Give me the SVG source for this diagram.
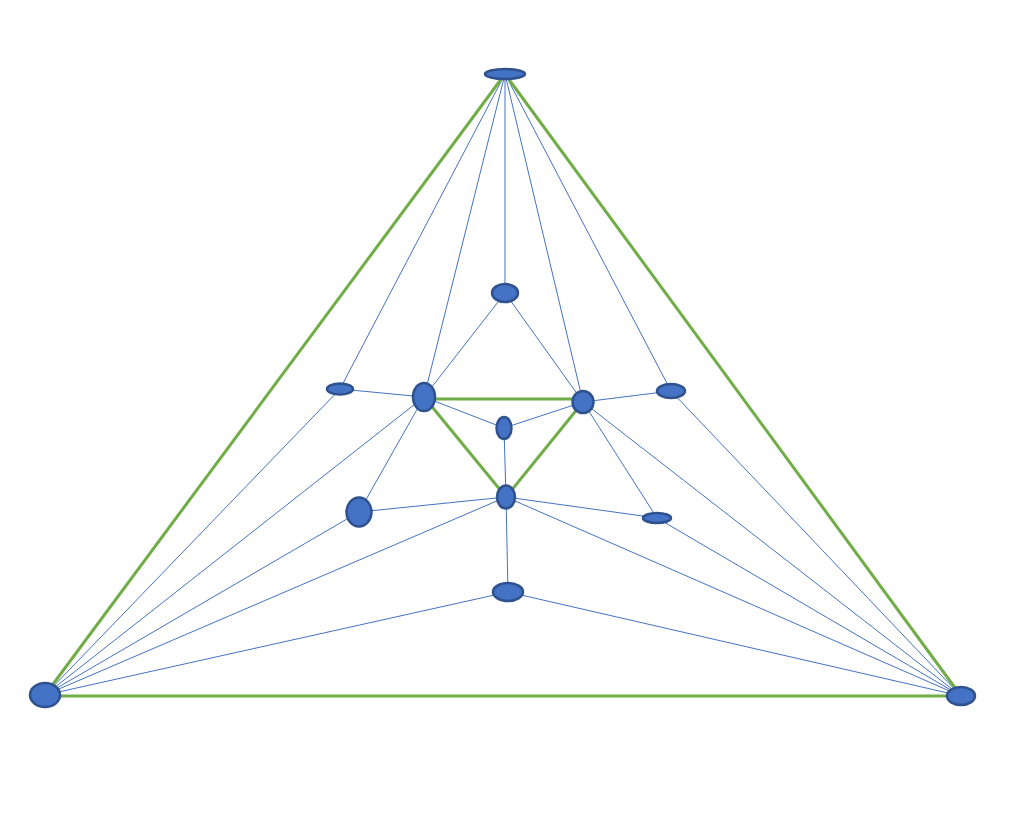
<svg xmlns="http://www.w3.org/2000/svg" width="1026" height="814" viewBox="0 0 1026 814">
<style>
.g{stroke:#70AD47;stroke-width:3;fill:none}
.b{stroke:#4472C4;stroke-width:1;fill:none}
.n{fill:#4472C4;stroke:#2F528F;stroke-width:2.5}
</style>
<rect width="1026" height="814" fill="#fff"/>
<g id="connectors">
<line class="b" x1="505" y1="74" x2="340" y2="389"/>
<line class="b" x1="505" y1="74" x2="424" y2="397"/>
<line class="b" x1="505" y1="74" x2="505" y2="293"/>
<line class="b" x1="505" y1="74" x2="583" y2="402"/>
<line class="b" x1="505" y1="74" x2="671" y2="391"/>
<line class="b" x1="505" y1="293" x2="424" y2="397"/>
<line class="b" x1="505" y1="293" x2="583" y2="402"/>
<line class="b" x1="340" y1="389" x2="424" y2="397"/>
<line class="b" x1="583" y1="402" x2="671" y2="391"/>
<line class="b" x1="424" y1="397" x2="504" y2="428"/>
<line class="b" x1="583" y1="402" x2="504" y2="428"/>
<line class="b" x1="504" y1="428" x2="506" y2="497"/>
<line class="b" x1="424" y1="397" x2="359" y2="512"/>
<line class="b" x1="359" y1="512" x2="506" y2="497"/>
<line class="b" x1="583" y1="402" x2="657" y2="518"/>
<line class="b" x1="657" y1="518" x2="506" y2="497"/>
<line class="b" x1="506" y1="497" x2="508" y2="592"/>
<line class="b" x1="45" y1="695" x2="340" y2="389"/>
<line class="b" x1="45" y1="695" x2="424" y2="397"/>
<line class="b" x1="45" y1="695" x2="359" y2="512"/>
<line class="b" x1="45" y1="695" x2="506" y2="497"/>
<line class="b" x1="45" y1="695" x2="508" y2="592"/>
<line class="b" x1="961" y1="696" x2="671" y2="391"/>
<line class="b" x1="961" y1="696" x2="583" y2="402"/>
<line class="b" x1="961" y1="696" x2="657" y2="518"/>
<line class="b" x1="961" y1="696" x2="506" y2="497"/>
<line class="b" x1="961" y1="696" x2="508" y2="592"/>
<line class="g" x1="505" y1="74" x2="45" y2="695"/>
<line class="g" x1="505" y1="74" x2="961" y2="696"/>
<line class="g" x1="45" y1="696" x2="961" y2="696"/>
<line class="g" x1="424" y1="399" x2="583" y2="399"/>
<line class="g" x1="424" y1="397" x2="506" y2="497"/>
<line class="g" x1="583" y1="402" x2="506" y2="497"/>
</g>
<g id="nT"><ellipse class="n" cx="505" cy="74" rx="20" ry="5"/></g>
<g id="nBL"><ellipse class="n" cx="45" cy="695" rx="15" ry="12"/></g>
<g id="nBR"><ellipse class="n" cx="961" cy="696" rx="14" ry="9"/></g>
<g id="nTop"><ellipse class="n" cx="505" cy="293" rx="13" ry="9"/></g>
<g id="nL"><ellipse class="n" cx="340" cy="389" rx="13" ry="5.5"/></g>
<g id="nA"><ellipse class="n" cx="424" cy="397" rx="11" ry="14"/></g>
<g id="nB"><ellipse class="n" cx="583" cy="402" rx="10.5" ry="11"/></g>
<g id="nR"><ellipse class="n" cx="671" cy="391" rx="14" ry="7"/></g>
<g id="nC"><ellipse class="n" cx="504" cy="428" rx="7.5" ry="11"/></g>
<g id="nD"><ellipse class="n" cx="506" cy="497" rx="9" ry="11.5"/></g>
<g id="nE"><ellipse class="n" cx="359" cy="512" rx="12.5" ry="14.5"/></g>
<g id="nF"><ellipse class="n" cx="657" cy="518" rx="14" ry="5"/></g>
<g id="nG"><ellipse class="n" cx="508" cy="592" rx="15" ry="9"/></g>
</svg>
